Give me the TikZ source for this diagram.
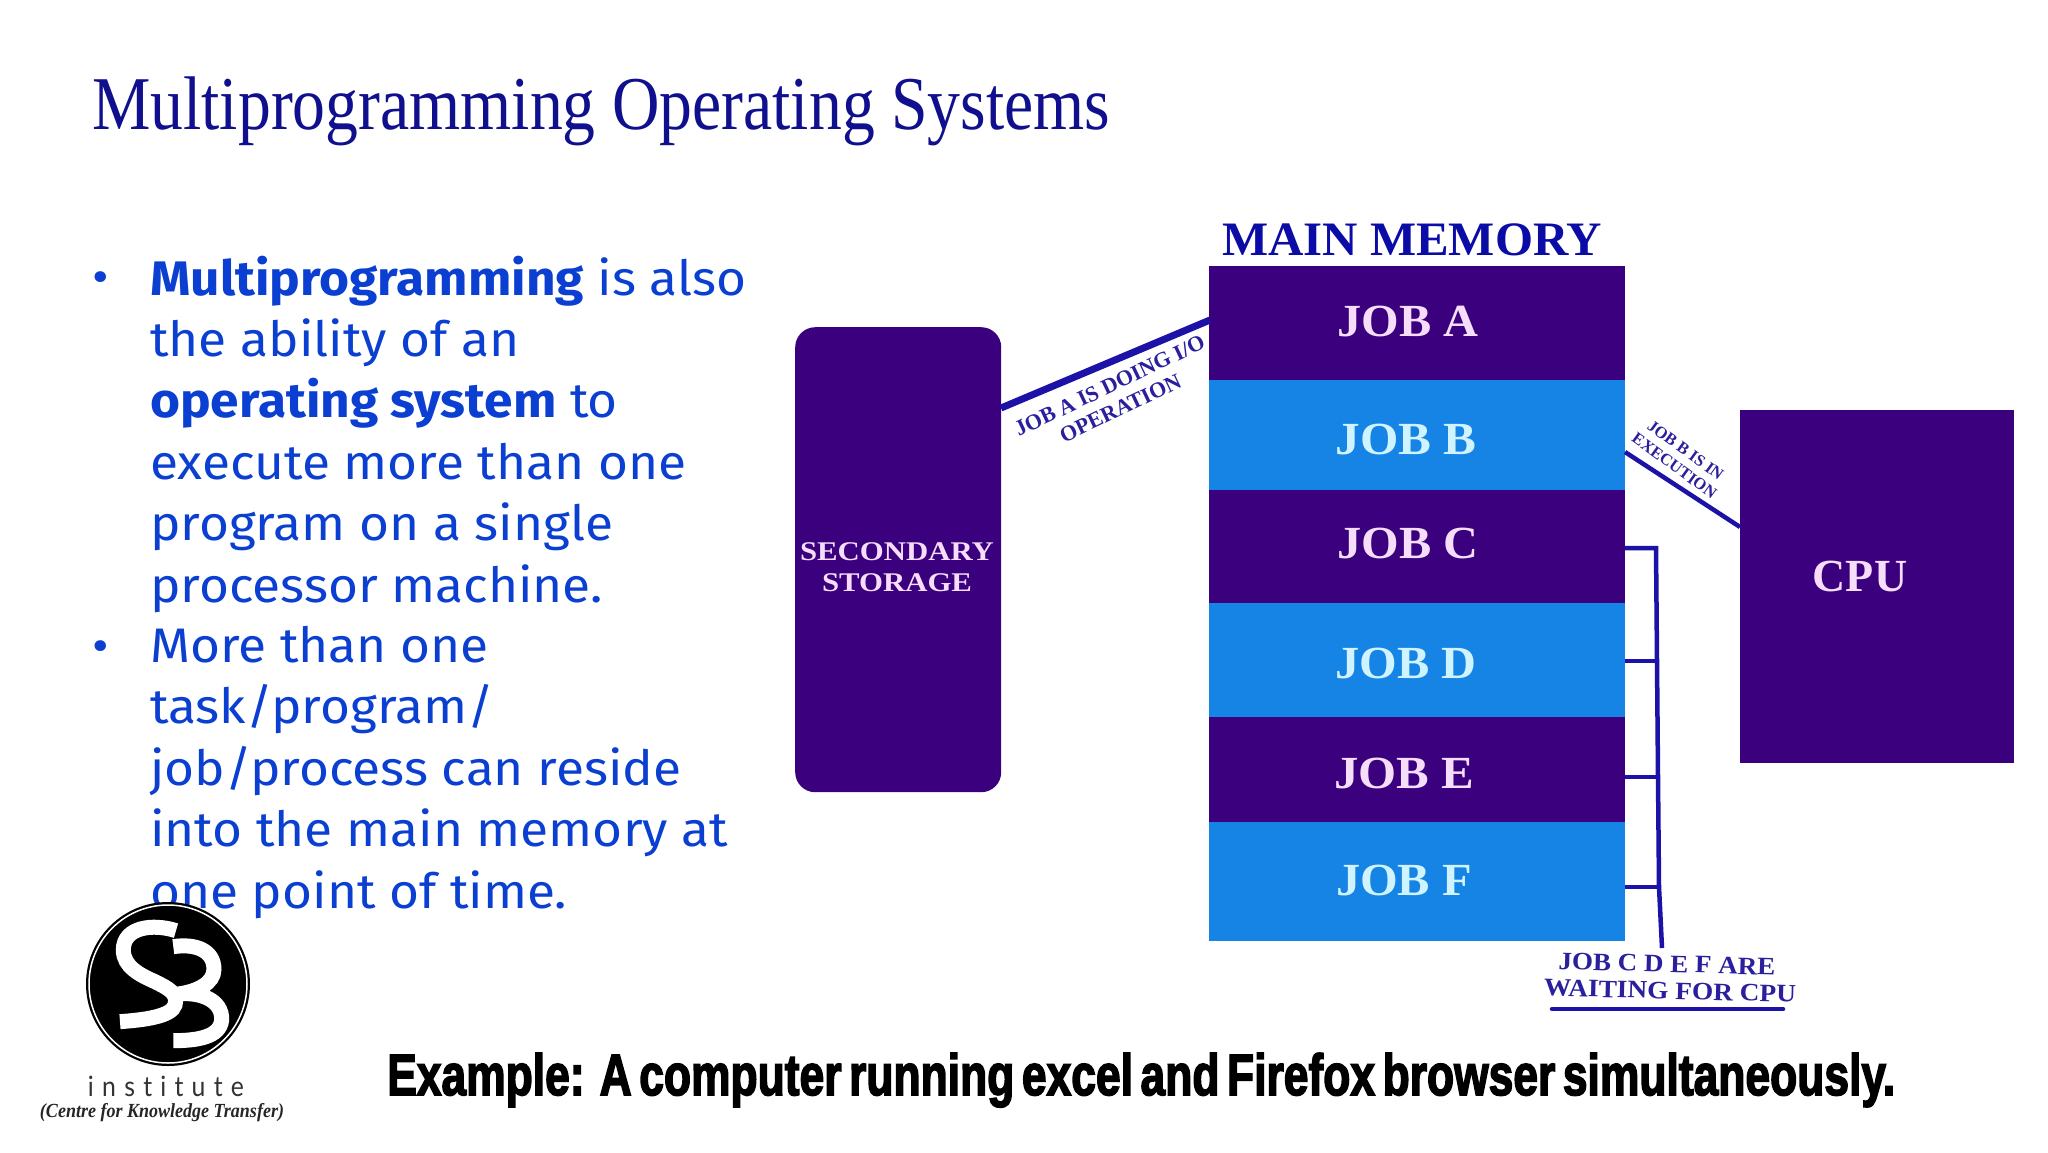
\documentclass[tikz,border=0pt]{standalone}
\usepackage{fontspec}
\setmainfont{Liberation Serif}
\newfontfamily\titlef{Liberation Serif}
\newfontfamily\bodyf[FakeStretch=1.06]{Fira Sans}
\newfontfamily\impactf[FakeBold=3]{Liberation Sans}
\newfontfamily\widef[FakeStretch=1.14]{Liberation Serif}
\newfontfamily\logof{Lato}
\definecolor{jobpurple}{HTML}{3A007E}
\definecolor{jobblue}{HTML}{1684E4}
\definecolor{bodyblue}{HTML}{0A3FD2}
\definecolor{titleblue}{HTML}{10108F}
\definecolor{linkblue}{HTML}{1C12A8}
\definecolor{labelblue}{HTML}{2A1F9C}
\definecolor{headblue}{HTML}{0B0BA6}
\definecolor{palepink}{HTML}{F6DDFA}
\definecolor{palecyan}{HTML}{CFF4FF}
\newcommand{\fitw}[2]{\resizebox{#1}{\height}{#2}}
\tikzset{
  block/.style={anchor=north west,inner sep=0pt,outer sep=0pt,minimum width=#1},
  jobtext/.style={inner sep=0pt,font=\fontsize{46}{46}\selectfont\bfseries},
  linklabel/.style={inner sep=0pt,text=labelblue,align=center,font=\fontsize{22}{25}\selectfont\bfseries},
  link/.style={draw=linkblue,line width=#1},
  link/.default=4pt,
  bodytext/.style={inner sep=0pt,anchor=base west,text=bodyblue,align=left,font=\bodyf\fontsize{48.5}{61.4}\selectfont}
}
\begin{document}
\begin{tikzpicture}[x=1pt,y=-1pt]
\useasboundingbox[fill=white] (0,0) rectangle (2048,1152);

\node[inner sep=0pt,anchor=base west,text=titleblue,font=\titlef\fontsize{76}{76}\selectfont] (title) at (92,129)
  {\fitw{1018pt}{Multiprogramming Operating Systems}};

% body
\node[inner sep=0pt,text=bodyblue,font=\bodyf\fontsize{48}{48}\selectfont] (bulletA) at (101,283) {•};
\node[inner sep=0pt,text=bodyblue,font=\bodyf\fontsize{48}{48}\selectfont] (bulletB) at (101,652) {•};
\node[bodytext] (bodyA) at (150,602) {\textbf{Multiprogramming} is also\\the ability of an\\\textbf{operating system} to\\execute more than one\\program on a single\\processor machine.};
\node[bodytext] (bodyB) at (150,908) {More than one\\task/program/\\job/process can reside\\into the main memory at\\one point of time.};

% memory stack
\node[inner sep=0pt,text=headblue,font=\fontsize{48}{48}\selectfont\bfseries] (head) at (1412,240) {\fitw{380pt}{MAIN MEMORY}};
\node[block=416pt,minimum height=114pt,fill=jobpurple] (jobA) at (1209,266) {};
\node[block=416pt,minimum height=110pt,fill=jobblue] (jobB) at (1209,380) {};
\node[block=416pt,minimum height=113pt,fill=jobpurple] (jobC) at (1209,490) {};
\node[block=416pt,minimum height=114pt,fill=jobblue] (jobD) at (1209,603) {};
\node[block=416pt,minimum height=105pt,fill=jobpurple] (jobE) at (1209,717) {};
\node[block=416pt,minimum height=119pt,fill=jobblue] (jobF) at (1209,822) {};
\node[jobtext,text=palepink] (textA) at (1408,321) {\fitw{141pt}{JOB A}};
\node[jobtext,text=palecyan] (textB) at (1406,439) {\fitw{141pt}{JOB B}};
\node[jobtext,text=palepink] (textC) at (1408,543) {\fitw{141pt}{JOB C}};
\node[jobtext,text=palecyan] (textD) at (1406,663) {\fitw{141pt}{JOB D}};
\node[jobtext,text=palepink] (textE) at (1404,773) {\fitw{140pt}{JOB E}};
\node[jobtext,text=palecyan] (textF) at (1404,880) {\fitw{136pt}{JOB F}};

% storage and cpu
\node[anchor=north west,inner sep=0pt,fill=jobpurple,rounded corners=20pt,minimum width=206pt,minimum height=465pt] (storage) at (795,327) {};
\node[inner sep=0pt,text=palepink,align=center,font=\widef\fontsize{27}{31}\selectfont\bfseries] (storagetext) at (897,567) {SECONDARY\\STORAGE};
\node[anchor=north west,inner sep=0pt,fill=jobpurple,minimum width=274pt,minimum height=353pt] (cpu) at (1740,410) {};
\node[inner sep=0pt,text=palepink,font=\fontsize{46}{46}\selectfont\bfseries] (cputext) at (1860,576) {CPU};

% connectors
\coordinate (ioA) at (1001,408);
\coordinate (ioB) at (1210,320);
\draw[link=7pt] (ioA) -- (ioB);
\coordinate (exA) at (1625,452);
\coordinate (exB) at (1740,527);
\draw[link=4.5pt] (exA) -- (exB);
\coordinate (tapC) at (1656,548);
\coordinate (tapD) at (1657,661);
\coordinate (tapE) at (1658,777);
\coordinate (tapF) at (1659,887);
\coordinate (busEnd) at (1662,948);
\draw[link=4.5pt,line join=miter] (jobC.east |- tapC) -- (tapC) -- (tapD) -- (tapE) -- (tapF) -- (busEnd);
\draw[link=4.5pt] (jobD.east |- tapD) -- (tapD);
\draw[link=4.5pt] (jobE.east |- tapE) -- (tapE);
\draw[link=4.5pt] (jobF.east |- tapF) -- (tapF);

\node[linklabel,rotate=25.5] (ioLabel) at (1115,397) {JOB A IS DOING I/O\\OPERATION};
\node[linklabel,rotate=-36,font=\fontsize{16.5}{19}\selectfont\bfseries] (exLabel) at (1680,458) {JOB B IS IN\\EXECUTION};
\node[inner sep=0pt,text=labelblue,rotate=-1.5,font=\fontsize{25}{25}\selectfont\bfseries] (waitA) at (1667,964) {\fitw{217pt}{JOB C D E F ARE}};
\node[inner sep=0pt,text=labelblue,rotate=-1.5,font=\fontsize{25}{25}\selectfont\bfseries] (waitB) at (1670,991) {\fitw{252pt}{WAITING FOR CPU}};
\coordinate (ulA) at (1552,1009);
\coordinate (ulB) at (1783,1009);
\draw[link=4.5pt,line cap=round] (ulA) -- (ulB);

% example
\node[inner sep=0pt,anchor=base west,text=black,font=\impactf\fontsize{58}{58}\selectfont\bfseries] (example) at (387,1095)
  {\fitw{1508pt}{\spaceskip=0.17em Example:\ \ A computer running excel and Firefox browser simultaneously.}};

% logo
\node[circle,fill=black,inner sep=0pt,minimum size=164pt] (logo) at (168,984) {};
\draw[white,line width=1.5pt] (logo.center) circle[radius=79];
\begin{scope}[shift={(40,880)},x=0.3333pt,y=-0.3333pt]
\draw[white,line width=15pt,line cap=butt] (408,152) .. controls (340,130) and (250,140) .. (250,210) .. controls (250,260) and (300,285) .. (345,305) .. controls (385,325) and (415,340) .. (405,375) .. controls (395,410) and (310,420) .. (240,425);
\draw[white,line width=15pt,line cap=butt] (400,200) .. controls (465,190) and (522,210) .. (522,268) .. controls (522,310) and (470,335) .. (415,342) .. controls (480,335) and (548,360) .. (545,420) .. controls (540,472) and (470,482) .. (400,482);
\end{scope}
\node[inner sep=0pt,text=black!80,font=\logof\fontsize{28}{28}\selectfont] (inst) at (166,1086) {\fitw{156pt}{i\,\,n\,\,s\,\,t\,\,i\,\,t\,\,u\,\,t\,\,e}};
\node[inner sep=0pt,text=black!85,font=\fontsize{20}{20}\selectfont\bfseries\itshape] (centre) at (162,1113) {\fitw{244pt}{(Centre for Knowledge Transfer)}};
\end{tikzpicture}
\end{document}
